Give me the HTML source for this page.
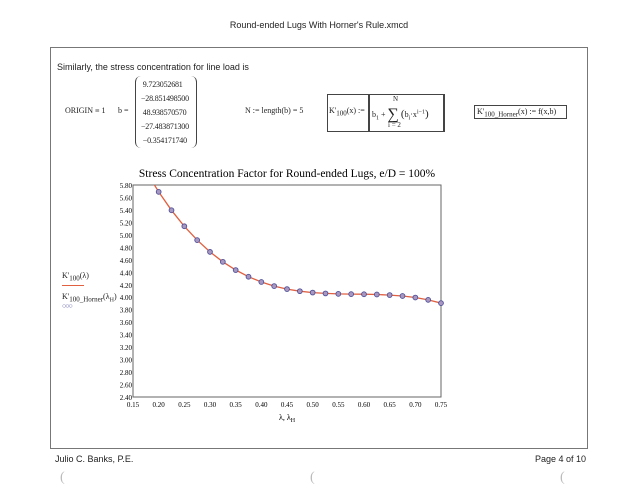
<!DOCTYPE html>
<html><head><meta charset="utf-8"><style>
body{margin:0;width:638px;height:491px;background:#fff;overflow:hidden;font-family:"Liberation Serif",serif;color:#222}
.a{position:absolute;white-space:nowrap}
.s{font-family:"Liberation Sans",sans-serif}
</style></head><body>
<div class="a s" style="left:0;width:638px;text-align:center;top:20px;font-size:9px">Round-ended Lugs With Horner's Rule.xmcd</div>
<div class="a" style="left:50px;top:47px;width:536px;height:400px;border:1px solid #777"></div>
<div class="a s" style="left:57px;top:62px;font-size:9px">Similarly, the stress concentration for line load is</div>
<div class="a" style="left:65px;top:106px;font-size:8px">ORIGIN ≡ 1</div>
<div class="a" style="left:118px;top:106px;font-size:8px">b =</div>
<div class="a" style="left:135px;top:76px;width:6px;height:72px;border-left:1px solid #444;border-radius:6px 0 0 6px"></div>
<div class="a" style="left:190px;top:76px;width:6px;height:72px;border-right:1px solid #444;border-radius:0 6px 6px 0"></div>
<div class="a" style="left:141px;top:78px;font-size:8px;line-height:14px;letter-spacing:-0.2px">&nbsp;9.723052681<br>−28.851498500<br>&nbsp;48.938570570<br>−27.483871300<br>&nbsp;−0.354171740</div>
<div class="a" style="left:245px;top:106px;font-size:8px">N := length(b) = 5</div>
<div class="a" style="left:327px;top:94px;width:115px;height:36px;border:1px solid #444"></div>
<div class="a" style="left:368px;top:94px;width:74px;height:36px;border:1px solid #444;border-left-width:2px"></div>
<div class="a" style="left:329px;top:106px;font-size:8px">K'<sub style="font-size:7px">100</sub>(x) :=</div>
<div class="a" style="left:372px;top:104px;font-size:8px">b<sub style="font-size:6px">1</sub> + <span style="font-size:16px;position:relative;top:2px">∑</span> <span style="font-size:11px">(</span>b<sub style="font-size:6px">i</sub>·x<sup style="font-size:6px">i−1</sup><span style="font-size:11px">)</span></div>
<div class="a" style="left:393px;top:95px;font-size:7px">N</div>
<div class="a" style="left:388px;top:121px;font-size:7px">i = 2</div>
<div class="a" style="left:474px;top:105px;width:89px;height:12px;border:1px solid #444;font-size:8px;line-height:12px;padding-left:2px">K'<sub style="font-size:7px">100_Horner</sub>(x) := f(x,b)</div>
<svg class="a" style="left:0;top:0" width="638" height="491" id="ch"></svg>
<div class="a" style="left:62px;top:271px;font-size:8px">K'<sub style="font-size:7px">100</sub>(λ)</div>
<div class="a" style="left:62px;top:285px;width:22px;height:1px;background:#e06040"></div>
<div class="a" style="left:62px;top:292px;font-size:8px">K'<sub style="font-size:7px">100_Horner</sub>(λ<sub style="font-size:6px">H</sub>)</div>
<div class="a" style="left:62px;top:302px;font-size:7px;color:#5050a0;letter-spacing:-1px">○○○</div>
<div class="a s" style="left:55px;top:454px;font-size:9px">Julio C. Banks, P.E.</div>
<div class="a s" style="left:535px;top:454px;font-size:9px">Page 4 of 10</div>
<div class="a" style="left:60px;top:470px;font-size:14px;color:#bbb">(</div>
<div class="a" style="left:310px;top:470px;font-size:14px;color:#bbb">(</div>
<div class="a" style="left:560px;top:470px;font-size:14px;color:#bbb">(</div>
<script>
const xLine=[0.175,0.2,0.225,0.25,0.275,0.3,0.325,0.35,0.375,0.4,0.425,0.45,0.475,0.5,0.525,0.55,0.575,0.6,0.625,0.65,0.675,0.7,0.725,0.75];
const yLine=[6.025,5.690,5.395,5.138,4.916,4.727,4.568,4.436,4.329,4.245,4.179,4.131,4.097,4.075,4.061,4.054,4.050,4.048,4.044,4.035,4.020,3.995,3.958,3.906];
const xPts=[0.2,0.225,0.25,0.275,0.3,0.325,0.35,0.375,0.4,0.425,0.45,0.475,0.5,0.525,0.55,0.575,0.6,0.625,0.65,0.675,0.7,0.725,0.75];
const yPts=[5.690,5.395,5.138,4.916,4.727,4.568,4.436,4.329,4.245,4.179,4.131,4.097,4.075,4.061,4.054,4.050,4.048,4.044,4.035,4.020,3.995,3.958,3.906];
const xTicks=[0.15,0.2,0.25,0.3,0.35,0.4,0.45,0.5,0.55,0.6,0.65,0.7,0.75];
const yTicks=[2.4,2.6,2.8,3.0,3.2,3.4,3.6,3.8,4.0,4.2,4.4,4.6,4.8,5.0,5.2,5.4,5.6,5.8];
const L=133,R=441,T=185,B=397,x0=0.15,x1=0.75,y0=2.4,y1=5.8;
const sx=v=>L+(v-x0)/(x1-x0)*(R-L), sy=v=>B-(v-y0)/(y1-y0)*(B-T);
const svg=document.getElementById('ch'),NS='http://www.w3.org/2000/svg';
function mk(t,a){const e=document.createElementNS(NS,t);for(const k in a)e.setAttribute(k,a[k]);svg.appendChild(e);return e;}
let cp=mk('clipPath',{id:'cp'});
let cr=document.createElementNS(NS,'rect');cr.setAttribute('x',L);cr.setAttribute('y',T);cr.setAttribute('width',R-L);cr.setAttribute('height',B-T);cp.appendChild(cr);
let fr=mk('rect',{x:L,y:T,width:R-L,height:B-T,fill:'none',stroke:'#666','stroke-width':1});


let ti=mk('text',{x:287,y:177,'text-anchor':'middle','font-size':11.5,'font-family':'Liberation Serif'});ti.textContent='Stress Concentration Factor for Round-ended Lugs, e/D = 100%';


yTicks.forEach(v=>{let t=mk('text',{x:L-1,y:sy(v)+3,'text-anchor':'end','font-size':7,'font-family':'Liberation Serif'});t.textContent=v.toFixed(2);

});
xTicks.forEach(v=>{let t=mk('text',{x:sx(v),y:B+10,'text-anchor':'middle','font-size':7,'font-family':'Liberation Serif'});t.textContent=v.toFixed(2);

});
let xt=mk('text',{x:287,y:420,'text-anchor':'middle','font-size':8,'font-family':'Liberation Serif'});xt.innerHTML='λ, λ<tspan font-size="6" dy="2">H</tspan>';


let d=xLine.map((v,i)=>(i?'L':'M')+sx(v).toFixed(1)+','+sy(yLine[i]).toFixed(1)).join('');
let p=mk('path',{d:d,fill:'none',stroke:'#e06040','stroke-width':1.3,'clip-path':'url(#cp)'});


xPts.forEach((v,i)=>{let c=mk('circle',{cx:sx(v),cy:sy(yPts[i]),r:2.4,fill:'#a898c0',stroke:'#50509a','stroke-width':0.9});

});
</script>
</body></html>
